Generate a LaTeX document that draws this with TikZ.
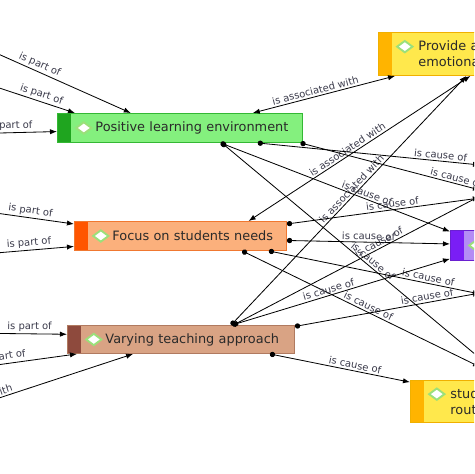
\documentclass[tikz,border=0pt]{standalone}
\usepackage{fontspec}
\setmainfont{DejaVu Sans}
\usetikzlibrary{arrows.meta, positioning, calc}

\definecolor{plefill}{HTML}{84F07E}
\definecolor{pleline}{HTML}{34B834}
\definecolor{plestrip}{HTML}{1FA51F}
\definecolor{fsnfill}{HTML}{FBB07C}
\definecolor{fsnline}{HTML}{F07830}
\definecolor{fsnstrip}{HTML}{FF5500}
\definecolor{vtafill}{HTML}{D9A384}
\definecolor{vtaline}{HTML}{B07A60}
\definecolor{vtastrip}{HTML}{8E4A3D}
\definecolor{profill}{HTML}{FFE84C}
\definecolor{proline}{HTML}{F0B000}
\definecolor{prostrip}{HTML}{FFB400}
\definecolor{purfill}{HTML}{B48CF5}
\definecolor{purline}{HTML}{6A20D0}
\definecolor{purstrip}{HTML}{7A1EF5}
\definecolor{icongreen}{HTML}{9BE07A}
\definecolor{txtgray}{HTML}{2A2A2A}
\definecolor{lblgray}{HTML}{3A3A4A}

\begin{document}
\begin{tikzpicture}[
		x=0.03cm, y=-0.03cm,
		codebox/.style n args={4}{rectangle, draw=#2, fill=#3, line width=0.8pt, anchor=north west,
			inner sep=0pt, align=left, font=\fontsize{11}{13.5}\selectfont, text=txtgray,
			path picture={
				\fill[#1] (path picture bounding box.north west) rectangle ([xshift=0.4cm]path picture bounding box.south west);
				\filldraw[fill=white, draw=icongreen, line width=1.6pt] ([xshift=0.56cm, yshift=#4]path picture bounding box.west)
					-- ++(0.23cm,0.17cm) -- ++(0.23cm,-0.17cm) -- ++(-0.23cm,-0.17cm) -- cycle;
			}},
		arrow/.style={-{Latex[length=6pt, width=4.5pt]}, line width=0.7pt},
		link/.style={{Circle[length=4.5pt]}-{Latex[length=6pt, width=4.5pt]}, line width=0.7pt},
		assoc/.style={{Latex[length=6pt, width=4.5pt]}-{Latex[length=6pt, width=4.5pt]}, line width=0.7pt},
		lbl/.style={font=\fontsize{8.5}{10}\selectfont, text=lblgray, sloped, above, inner sep=1.5pt}
		]

		\useasboundingbox (0,0) rectangle (474,474);
		\fill[white] (0,0) rectangle (474,474);
		\clip (0,0) rectangle (474,474);

		% Codes
		\node[codebox={plestrip}{pleline}{plefill}{0cm}, text width=7.35cm, minimum height=0.87cm] (ple) at (57,113)
			{\hspace*{1.14cm}Positive learning environment};
		\node[codebox={fsnstrip}{fsnline}{fsnfill}{0cm}, text width=6.36cm, minimum height=0.87cm] (fsn) at (74,221)
			{\hspace*{1.14cm}Focus on students needs};
		\node[codebox={vtastrip}{vtaline}{vtafill}{0cm}, text width=6.81cm, minimum height=0.84cm] (vta) at (67,325)
			{\hspace*{1.14cm}Varying teaching approach};
		\node[codebox={prostrip}{proline}{profill}{0.22cm}, text width=6cm, minimum height=1.29cm] (pro) at (378,32)
			{\hspace*{1.2cm}Provide a\\\hspace*{1.2cm}emotional};
		\node[codebox={purstrip}{purline}{purfill}{0cm}, text width=4.5cm, minimum height=0.9cm] (pur) at (450,230) {};
		\node[codebox={prostrip}{proline}{profill}{0.22cm}, text width=4.5cm, minimum height=1.26cm] (stu) at (410,380)
			{\hspace*{1.2cm}students\\\hspace*{1.2cm}routines};

		% Free ends outside the picture
		\coordinate (in1) at (-40,37);
		\coordinate (in2) at (-40,75);
		\coordinate (in3) at (-40,134);
		\coordinate (in4) at (-40,208);
		\coordinate (in5) at (-40,256);
		\coordinate (in6) at (-40,333);
		\coordinate (in7) at (-40,370);
		\coordinate (in8) at (-150,447);
		\coordinate (out1) at (480,165);
		\coordinate (out2) at (480,190);
		\coordinate (out3) at (500,375);
		\coordinate (out4) at (480,198);
		\coordinate (out5) at (480,294);
		\coordinate (out6) at (480,367);
		\coordinate (out7) at (480,293);
		\coordinate (out8) at (480,196);

		% Incoming from the left
		\draw[arrow] (in1) -- node[lbl, pos=0.45] {is part of} ($(ple.north west)!0.3!(ple.north east)$);
		\draw[arrow] (in2) -- node[lbl, pos=0.69] {is part of} ($(ple.north west)!0.073!(ple.north east)$);
		\draw[arrow] (in3) -- node[lbl, pos=0.52] {is part of} ($(ple.north west)!0.62!(ple.south west)$);
		\draw[arrow] (in4) -- node[lbl, pos=0.61] {is part of} ($(fsn.north west)!0.1!(fsn.south west)$);
		\draw[arrow] (in5) -- node[lbl, pos=0.61] {is part of} ($(fsn.north west)!0.85!(fsn.south west)$);
		\draw[arrow] (in6) -- node[lbl, pos=0.65] {is part of} ($(vta.north west)!0.32!(vta.south west)$);
		\draw[arrow] (in7) -- node[lbl, pos=0.38] {is part of} ($(vta.south west)!0.044!(vta.south east)$);
		\draw[arrow] (in8) -- node[lbl, pos=0.43] {is associated with} ($(vta.south west)!0.29!(vta.south east)$);

		% Associations
		\draw[assoc] ($(ple.north west)!0.796!(ple.north east)$) -- node[lbl, pos=0.45] {is associated with} ($(pro.south west)!0.085!(pro.south east)$);
		\draw[assoc] ($(fsn.north west)!0.82!(fsn.north east)$) -- node[lbl, pos=0.46] {is associated with} ($(pro.south west)!0.46!(pro.south east)$);
		\draw[link] ($(vta.north west)!0.72!(vta.north east)$) -- node[lbl, pos=0.53] {is associated with} ($(pro.south west)!0.44!(pro.south east)$);

		% Causes
		\draw[link] ($(ple.south west)!0.665!(ple.south east)$) -- node[lbl, pos=0.63] {is cause of} ($(pur.north west)!0.05!(pur.south west)$);
		\draw[link] ($(ple.south west)!0.67!(ple.south east)$) -- node[lbl, pos=0.53] {is cause of} (out3);
		\draw[link] ($(ple.south west)!0.816!(ple.south east)$) -- node[lbl, pos=0.82] {is cause of} (out1);
		\draw[link] ($(ple.south west)!0.99!(ple.south east)$) -- node[lbl, pos=0.86] {is cause of} (out2);
		\draw[link] ($(fsn.north east)!0.1!(fsn.south east)$) -- node[lbl, pos=0.55] {is cause of} (out4);
		\draw[link] ($(fsn.north east)!0.65!(fsn.south east)$) -- node[lbl, pos=0.5] {is cause of} ($(pur.north west)!0.45!(pur.south west)$);
		\draw[link] ($(fsn.south west)!0.915!(fsn.south east)$) -- node[lbl, pos=0.75] {is cause of} (out5);
		\draw[link] ($(fsn.south west)!0.79!(fsn.south east)$) -- node[lbl, pos=0.52] {is cause of} (out6);
		\draw[link] ($(vta.north west)!0.725!(vta.north east)$) -- node[lbl, pos=0.45] {is cause of} ($(pur.north west)!0.93!(pur.south west)$);
		\draw[link] ($(vta.north west)!0.73!(vta.north east)$) -- node[lbl, pos=0.6] {is cause of} (out8);
		\draw[link] ($(vta.north east)!0.05!(vta.south east)$) -- node[lbl, pos=0.72] {is cause of} (out7);
		\draw[link] ($(vta.south west)!0.89!(vta.south east)$) -- node[lbl, pos=0.6] {is cause of} ($(stu.north west)!0.05!(stu.south west)$);

	\end{tikzpicture}
\end{document}
